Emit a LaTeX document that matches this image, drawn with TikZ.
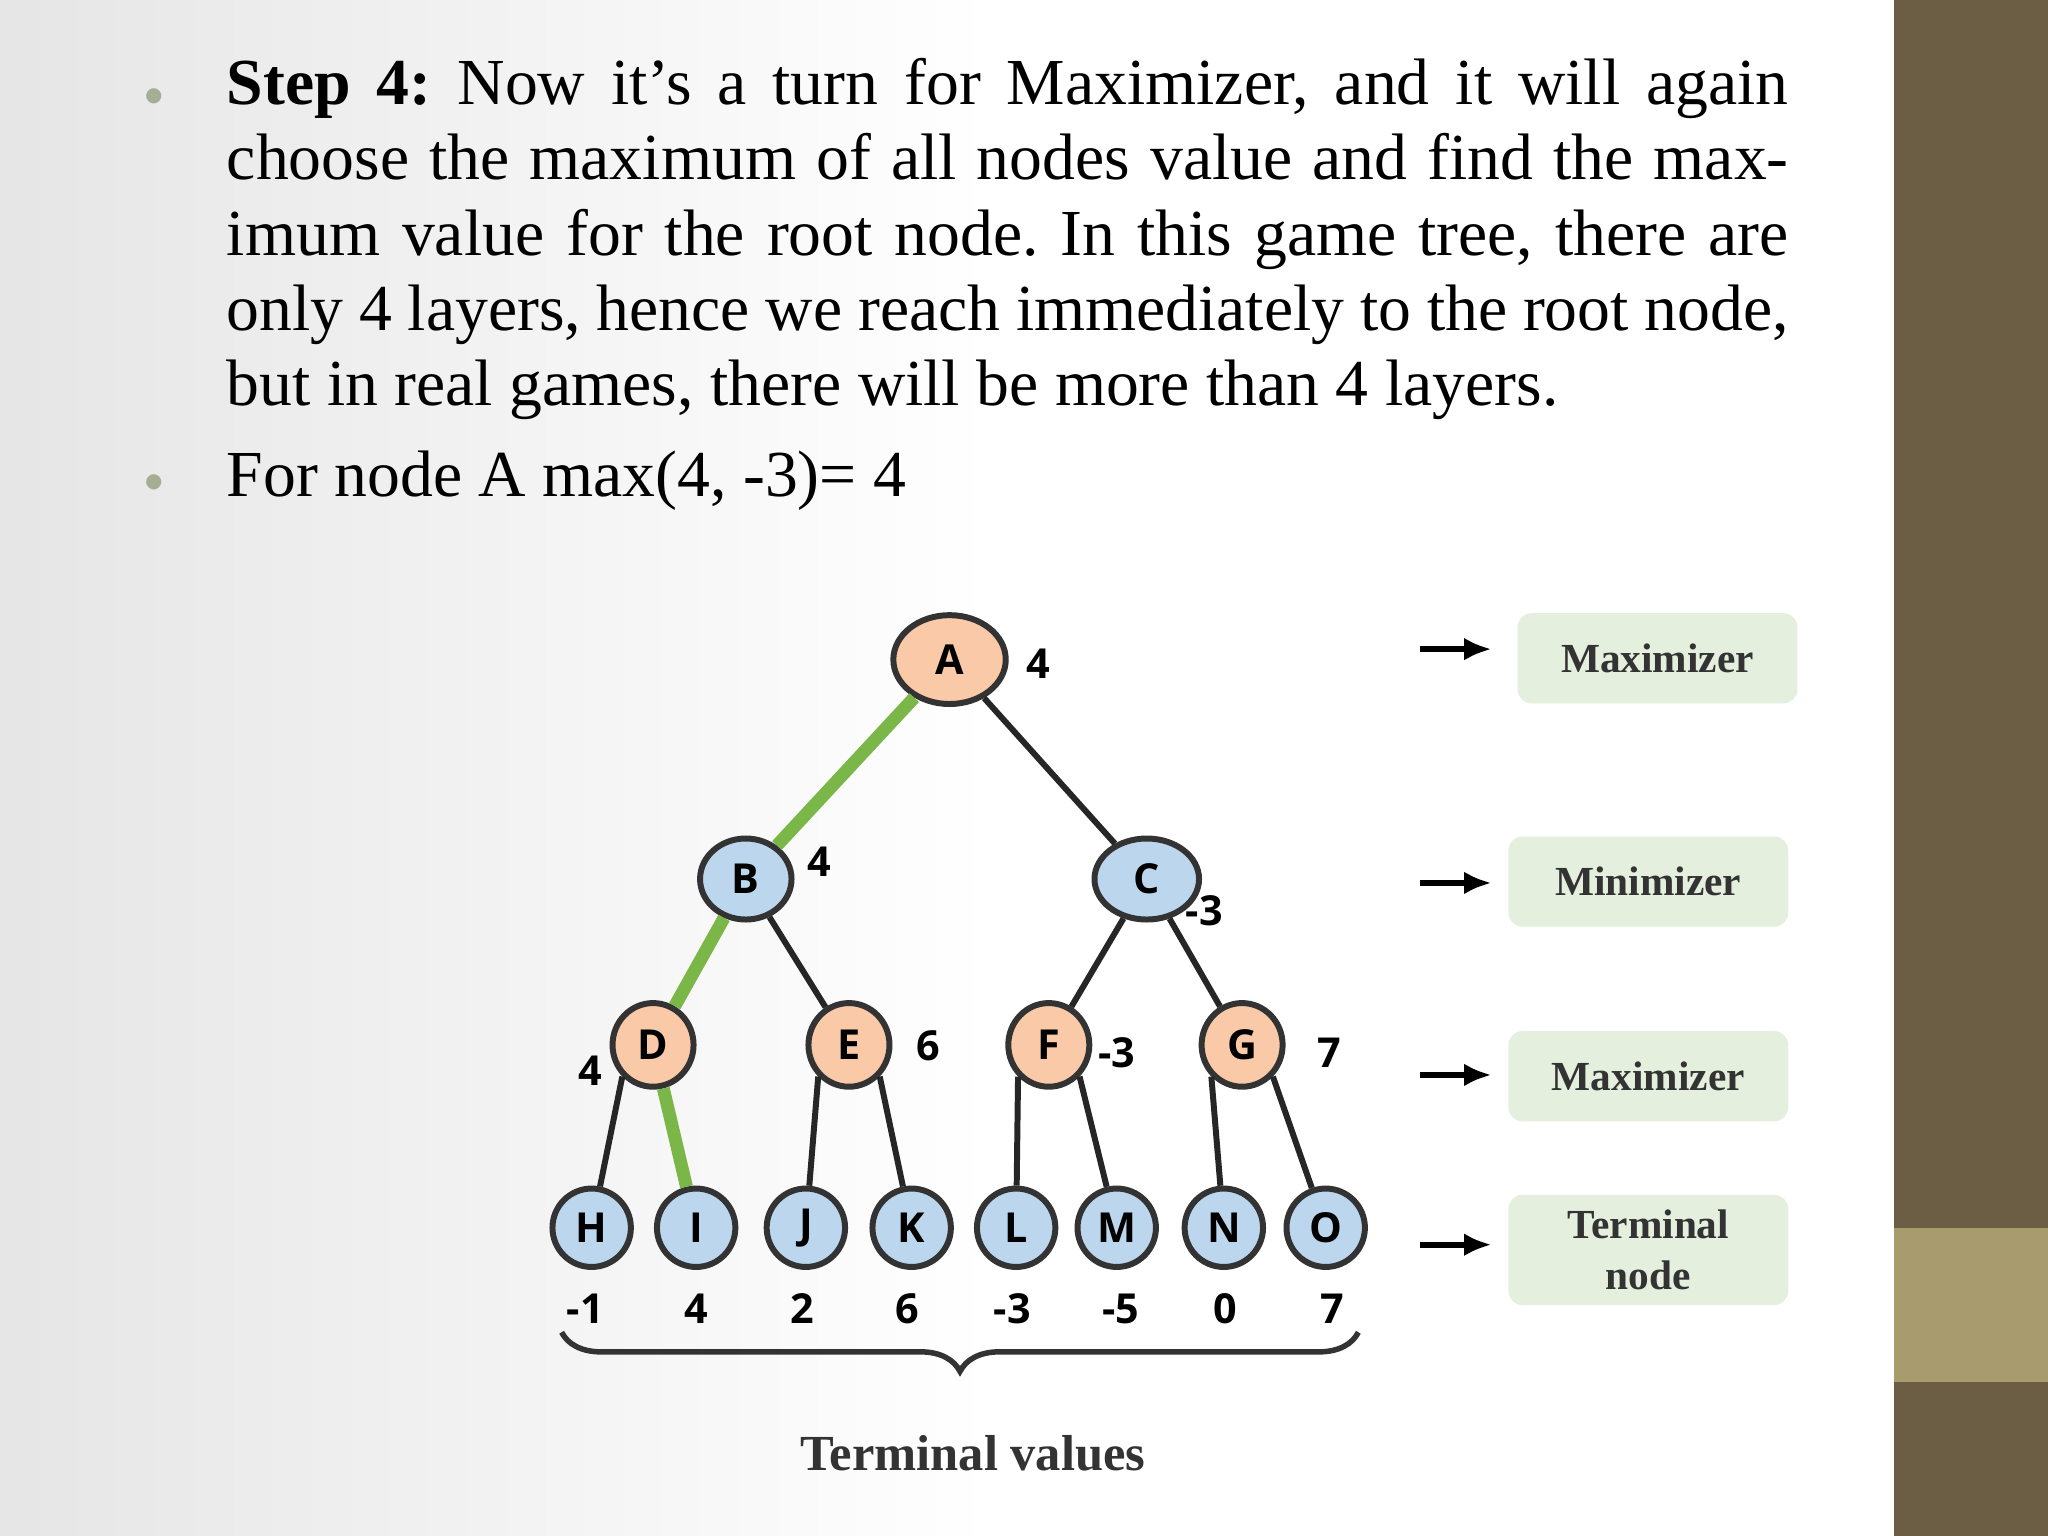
\documentclass[tikz,border=0pt]{standalone}
\usepackage{fontspec}
\setmainfont{Liberation Serif}
\newfontfamily\nodefont{Open Sans}
\usetikzlibrary{decorations.pathreplacing,arrows.meta,shapes.geometric}
\definecolor{olive}{HTML}{6B5E45}
\definecolor{tan}{HTML}{A89B6E}
\definecolor{maxc}{HTML}{F9C9A8}
\definecolor{minc}{HTML}{BCD6EE}
\definecolor{grn}{HTML}{7AB648}
\definecolor{boxc}{HTML}{E4EFDD}
\definecolor{bul}{HTML}{A5AE95}
\begin{document}
\begin{tikzpicture}[x=0.01cm,y=-0.01cm,
  maxn/.style={ellipse,draw=black!80,line width=1.3pt,fill=maxc,minimum width=0.7cm,minimum height=0.62cm,inner sep=0pt,font=\nodefont\bfseries\fontsize{9}{10}\selectfont},
  minn/.style={maxn,fill=minc},
  termn/.style={circle,draw=black!80,line width=1.3pt,fill=minc,minimum size=0.6cm,inner sep=0pt,font=\nodefont\bfseries\fontsize{9}{10}\selectfont},
  val/.style={font=\nodefont\bfseries\fontsize{9}{10}\selectfont,inner sep=0pt},
  edge/.style={line width=1.3pt,black!85},
  gedge/.style={line width=2.8pt,grn},
  lbox/.style={rounded corners=3pt,fill=boxc,minimum width=2.14cm,minimum height=0.69cm,align=center,font=\bfseries\fontsize{9}{11}\selectfont,text=black!80},
  arr/.style={-{Latex[length=6pt,width=5pt]},line width=1.4pt}]
\useasboundingbox (0,0) rectangle (1568,1176);
\shade[left color=black!10,right color=white] (0,0) rectangle (760,1176);
\fill[white] (760,0) rectangle (1450,1176);
\fill[olive] (1450,0) rectangle (1568,1176);
\fill[tan] (1450,940) rectangle (1568,1058);
% text
\node[text=bul,font=\fontsize{8}{8}\selectfont] (b1) at (118,74) {$\bullet$};
\node[text=bul,font=\fontsize{8}{8}\selectfont] (b2) at (118,370) {$\bullet$};
\node[anchor=north west,inner sep=0pt,text width=11.95cm,font=\fontsize{14.3}{16.4}\selectfont,align=justify] (t1) at (173,44)
{\hyphenpenalty=10000\frenchspacing\textbf{Step 4:} Now it\char"27 s a turn for Maximizer, and it will again choose the maximum of all nodes value and find the maximum value for the root node. In this game tree, there are only 4 layers, hence we reach immediately to the root node, but in real games, there will be more than 4 layers.};
\node[anchor=west,inner sep=0pt,font=\fontsize{14.3}{16.4}\selectfont] (t2) at (173,368) {For node A max(4, -3)= 4};
% nodes
\node[maxn,minimum width=0.86cm,minimum height=0.68cm] (A) at (727,505) {A};
\node[minn] (B) at (571,673) {B};
\node[minn,minimum width=0.8cm] (C) at (878,673) {C};
\node[maxn,minimum width=0.62cm,minimum height=0.64cm] (D) at (500,800) {D};
\node[maxn,minimum width=0.62cm,minimum height=0.64cm] (E) at (650,800) {E};
\node[maxn,minimum width=0.62cm,minimum height=0.64cm] (F) at (803,800) {F};
\node[maxn,minimum width=0.62cm,minimum height=0.64cm] (G) at (951,800) {G};
\foreach \n/\x in {H/453,I/533,J/617,K/698,L/778,M/855,N/937,O/1015}
  \node[termn] (\n) at (\x,940) {\n};
\draw[gedge] (A) -- (B);
\draw[edge] (A) -- (C);
\draw[gedge] (B) -- (D);
\draw[edge] (B) -- (E);
\draw[edge] (C) -- (F);
\draw[edge] (C) -- (G);
\draw[edge] (D.south west) -- (H);
\draw[gedge] (D) -- (I);
\draw[edge] (E.south west) -- (J);
\draw[edge] (E.south east) -- (K);
\draw[edge] (F.south west) -- (L);
\draw[edge] (F.south east) -- (M);
\draw[edge] (G.south west) -- (N);
\draw[edge] (G.south east) -- (O);
% values
\node[val] (vA) at (795,508) {4};
\node[val] (vB) at (627,660) {4};
\node[val] (vC) at (922,697) {-3};
\node[val] (vD) at (452,820) {4};
\node[val] (vE) at (711,801) {6};
\node[val] (vF) at (855,806) {-3};
\node[val] (vG) at (1018,806) {7};
\foreach \v/\x [count=\i] in {-1/448,4/533,2/614,6/695,-3/775,-5/858,0/938,7/1020}
  \node[val] (tv\i) at (\x,1002) {\v};
\coordinate (bl) at (430,1020);
\coordinate (br) at (1040,1020);
\draw[decorate,decoration={brace,mirror,amplitude=0.3cm},line width=1.2pt,black!80] (bl) -- (br);
\node[font=\bfseries\fontsize{11}{12}\selectfont,text=black!80] (tvl) at (745,1113) {Terminal values};
% right labels
\node[lbox] (r1) at (1269,504) {Maximizer};
\node[lbox] (r2) at (1262,675) {Minimizer};
\node[lbox] (r3) at (1262,824) {Maximizer};
\node[lbox,minimum height=0.78cm] (r4) at (1262,957) {Terminal\\node};
\foreach \y/\r in {497/r1,676/r2,823/r3,953/r4}{
  \coordinate (s\r) at (1087,\y);
  \coordinate (e\r) at (1142,\y);
  \draw[arr] (s\r) -- (e\r);}
\end{tikzpicture}
\end{document}
